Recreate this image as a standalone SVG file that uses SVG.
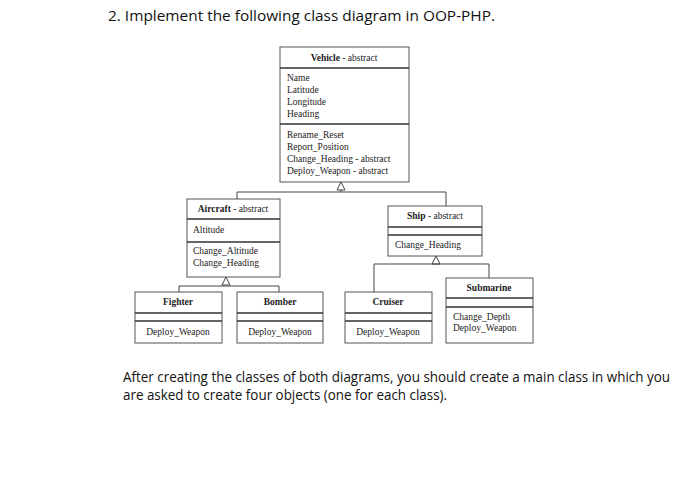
<svg xmlns="http://www.w3.org/2000/svg" width="700" height="479" viewBox="0 0 700 479">
<style>
.b{fill:#fff;stroke:#555;stroke-width:1}
.s{stroke:#333;stroke-width:1.6}
.t{font-family:"Liberation Serif",serif;font-size:9.5px;fill:#222}
.h{font-weight:bold}
.p{font-family:"Open Sans","Liberation Sans",sans-serif;font-size:14px;fill:#111}
.c{fill:none;stroke:#444;stroke-width:1}
</style>
<rect width="700" height="479" fill="#fff"/>
<text class="p" x="108" y="21" textLength="387" lengthAdjust="spacingAndGlyphs" style="font-size:15px">2. Implement the following class diagram in OOP-PHP.</text>
<g id="connectors">
<polygon class="c" points="341,182 337,190 345,190" fill="#fff"/>
<polyline class="c" points="237,199 237,192 446,192 446,206"/>
<line class="c" x1="341" y1="190" x2="341" y2="192"/>
<polygon class="c" points="226,277 222,285 230,285" fill="#fff"/>
<polyline class="c" points="179,292 179,286 279,286 279,292"/>
<polygon class="c" points="436,256 432,264 440,264" fill="#fff"/>
<polyline class="c" points="374,292 374,264 489,264 489,278"/>
</g>
<g id="vehicle">
<rect class="b" x="280" y="47" width="129" height="135"/>
<line class="s" x1="280" y1="68" x2="409" y2="68"/><line class="s" x1="280" y1="124" x2="409" y2="124"/>
<text class="t" x="344" y="61" text-anchor="middle"><tspan class="h">Vehicle</tspan> - abstract</text>
<text class="t" x="287" y="81">Name</text><text class="t" x="287" y="93">Latitude</text><text class="t" x="287" y="105">Longitude</text><text class="t" x="287" y="117">Heading</text>
<text class="t" x="287" y="138">Rename_Reset</text><text class="t" x="287" y="150">Report_Position</text><text class="t" x="287" y="162">Change_Heading - abstract</text><text class="t" x="287" y="174">Deploy_Weapon - abstract</text>
</g>
<g id="aircraft">
<rect class="b" x="187" y="199" width="93" height="78"/>
<line class="s" x1="187" y1="219" x2="280" y2="219"/><line class="s" x1="187" y1="242" x2="280" y2="242"/>
<text class="t" x="233" y="212" text-anchor="middle"><tspan class="h">Aircraft</tspan> - abstract</text>
<text class="t" x="193" y="233">Altitude</text>
<text class="t" x="193" y="254">Change_Altitude</text><text class="t" x="193" y="266">Change_Heading</text>
</g>
<g id="ship">
<rect class="b" x="388" y="206" width="94" height="50"/>
<line class="s" x1="388" y1="227" x2="482" y2="227"/><line class="s" x1="388" y1="235" x2="482" y2="235"/>
<text class="t" x="435" y="219" text-anchor="middle"><tspan class="h">Ship</tspan> - abstract</text>
<text class="t" x="395" y="248">Change_Heading</text>
</g>
<g id="fighter">
<rect class="b" x="135" y="292" width="87" height="51"/>
<line class="s" x1="135" y1="313" x2="222" y2="313"/><line class="s" x1="135" y1="321" x2="222" y2="321"/>
<text class="t h" x="178" y="305" text-anchor="middle">Fighter</text>
<text class="t" x="178" y="335" text-anchor="middle">Deploy_Weapon</text>
</g>
<g id="bomber">
<rect class="b" x="237" y="292" width="86" height="51"/>
<line class="s" x1="237" y1="313" x2="323" y2="313"/><line class="s" x1="237" y1="321" x2="323" y2="321"/>
<text class="t h" x="280" y="305" text-anchor="middle">Bomber</text>
<text class="t" x="280" y="335" text-anchor="middle">Deploy_Weapon</text>
</g>
<g id="cruiser">
<rect class="b" x="345" y="292" width="87" height="51"/>
<line class="s" x1="345" y1="313" x2="432" y2="313"/><line class="s" x1="345" y1="321" x2="432" y2="321"/>
<text class="t h" x="388" y="305" text-anchor="middle">Cruiser</text>
<text class="t" x="388" y="335" text-anchor="middle">Deploy_Weapon</text>
</g>
<g id="submarine">
<rect class="b" x="446" y="278" width="87" height="65"/>
<line class="s" x1="446" y1="298" x2="533" y2="298"/><line class="s" x1="446" y1="307" x2="533" y2="307"/>
<text class="t h" x="489" y="291" text-anchor="middle">Submarine</text>
<text class="t" x="453" y="320">Change_Depth</text><text class="t" x="453" y="331">Deploy_Weapon</text>
</g>
<text class="p" x="123" y="382" textLength="547" lengthAdjust="spacingAndGlyphs">After creating the classes of both diagrams, you should create a main class in which you</text>
<text class="p" x="123" y="400" textLength="324" lengthAdjust="spacingAndGlyphs">are asked to create four objects (one for each class).</text>
</svg>
